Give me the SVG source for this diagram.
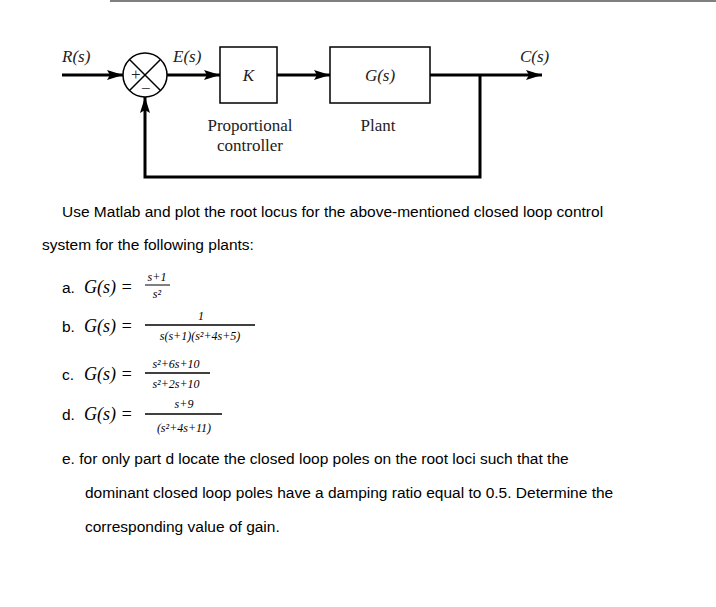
<svg xmlns="http://www.w3.org/2000/svg" width="716" height="607" viewBox="0 0 716 607">
<style>
.ln{stroke:#000;stroke-width:3;fill:none}
.bx{stroke:#000;stroke-width:1.5;fill:#fff}
.tm{font-family:"Liberation Serif",serif;font-size:17px;fill:#222}
.ti{font-family:"Liberation Serif",serif;font-size:17px;font-style:italic;fill:#222}
.tx{font-family:"Liberation Sans",sans-serif;font-size:15.5px;fill:#000}
.mi{font-family:"Liberation Serif",serif;font-style:italic;font-size:18px;fill:#000}
.sm{font-family:"Liberation Serif",serif;font-style:italic;font-size:12px;fill:#000}
</style>
<defs><marker id="ah" markerWidth="8" markerHeight="6" refX="7" refY="3" orient="auto" markerUnits="userSpaceOnUse" viewBox="0 0 8 6"><path d="M0,0L8,3L0,6z" fill="#000"/></marker>
<marker id="a2" markerWidth="16" markerHeight="10" refX="16" refY="5" orient="auto" markerUnits="userSpaceOnUse"><path d="M0,0L16,5L0,10L3,5z" fill="#000"/></marker></defs>
<rect width="716" height="607" fill="#fff"/>
<line x1="110" y1="1" x2="716" y2="1" stroke="#000" stroke-width="1"/>
<g id="connectors">
<path class="ln" d="M62,75H123" marker-end="url(#a2)"/>
<path class="ln" d="M167,75H220" marker-end="url(#a2)"/>
<path class="ln" d="M277,75H330" marker-end="url(#a2)"/>
<path class="ln" d="M430,75H542" marker-end="url(#a2)"/>
<path class="ln" d="M480,75V177H145V97" marker-end="url(#a2)"/>
</g>
<g id="sum"><circle cx="145" cy="75" r="22" class="bx" stroke-width="2"/>
<path d="M129.5,59.5L160.5,90.5M160.5,59.5L129.5,90.5" stroke="#000" stroke-width="1.5"/>
<text x="131" y="80" class="tm" font-size="13">+</text><text x="141" y="94" class="tm" font-size="13">−</text></g>
<g id="K"><rect x="220" y="47" width="57" height="56" class="bx"/><text x="248.5" y="81" class="ti" text-anchor="middle">K</text>
<text x="250" y="131" class="tm" text-anchor="middle">Proportional</text><text x="250" y="151" class="tm" text-anchor="middle">controller</text></g>
<g id="G"><rect x="330" y="47" width="100" height="56" class="bx"/><text x="380" y="81" class="ti" text-anchor="middle">G(s)</text>
<text x="378" y="131" class="tm" text-anchor="middle">Plant</text></g>
<text x="62" y="62" class="ti">R(s)</text><text x="173" y="62" class="ti">E(s)</text><text x="520" y="62" class="ti">C(s)</text>
<g id="text">
<text x="62" y="217" class="tx">Use Matlab and plot the root locus for the above-mentioned closed loop control</text>
<text x="42" y="250" class="tx">system for the following plants:</text>
<text x="62" y="293" class="tx">a.</text><text x="84" y="293" class="mi">G(s) =</text>
<text x="157" y="281" class="sm" text-anchor="middle">s+1</text><line x1="145" y1="285" x2="170" y2="285" stroke="#000"/><text x="157" y="298" class="sm" text-anchor="middle">s²</text>
<text x="62" y="332" class="tx">b.</text><text x="84" y="332" class="mi">G(s) =</text>
<text x="201" y="320" class="sm" text-anchor="middle">1</text><line x1="145" y1="325" x2="255" y2="325" stroke="#000" stroke-width="1.5"/><text x="200" y="340" class="sm" text-anchor="middle">s(s+1)(s²+4s+5)</text>
<text x="62" y="380" class="tx">c.</text><text x="84" y="380" class="mi">G(s) =</text>
<text x="176" y="368" class="sm" text-anchor="middle">s²+6s+10</text><line x1="145" y1="373" x2="210" y2="373" stroke="#000" stroke-width="1.5"/><text x="176" y="388" class="sm" text-anchor="middle">s²+2s+10</text>
<text x="62" y="420" class="tx">d.</text><text x="84" y="420" class="mi">G(s) =</text>
<text x="184" y="408" class="sm" text-anchor="middle">s+9</text><line x1="145" y1="414" x2="222" y2="414" stroke="#000" stroke-width="1.5"/><text x="184" y="432" class="sm" text-anchor="middle">(s²+4s+11)</text>
<text x="62" y="464" class="tx">e.  for only part d locate the closed loop poles on the root loci such that the</text>
<text x="85" y="498" class="tx">dominant closed loop poles have a damping ratio equal to 0.5. Determine the</text>
<text x="85" y="532" class="tx">corresponding value of gain.</text>
</g>
</svg>
